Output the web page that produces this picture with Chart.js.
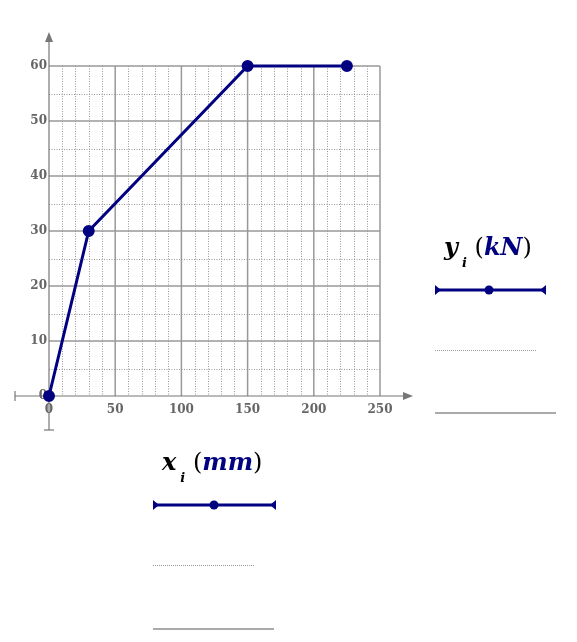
<!DOCTYPE html>
<html><head><meta charset="utf-8">
<script src="https://cdn.jsdelivr.net/npm/chart.js@4"></script>
<style>body{margin:0;background:#fff}#wrap{position:relative;width:577px;height:642px}canvas{position:absolute;left:0;top:0}
.lbl{position:absolute;font-family:"DejaVu Serif",serif;font-size:24px;color:#000;white-space:nowrap}
.lbl i{font-style:italic;font-weight:bold}.lbl sub{font-size:13px;font-style:italic;font-weight:bold;position:relative;top:6px;margin-left:4px}
.u{color:#000080;font-weight:bold;font-style:italic}</style>
</head><body><div id="wrap"><canvas id="c" width="577" height="642"></canvas>
<div class="lbl" style="left:444px;top:232px"><i>y</i><sub>i</sub>&nbsp;(<span class="u">kN</span>)</div>
<div class="lbl" style="left:162px;top:447px"><i>x</i><sub>i</sub>&nbsp;(<span class="u">mm</span>)</div>
</div>
<script>
const xValues=[0,30,150,225];
const yValues=[0,30,60,60];
const xTicks=[0,50,100,150,200,250];
const yTicks=[0,10,20,30,40,50,60];
const navy='#000080';
const deco={id:'deco',beforeDatasetsDraw(ch){
 const c=ch.ctx,xs=ch.scales.x,ys=ch.scales.y;const L=xs.getPixelForValue(0),R=xs.getPixelForValue(250),T=ys.getPixelForValue(60),B=ys.getPixelForValue(0);
 c.save();c.lineWidth=1;
 c.strokeStyle='#999';c.setLineDash([1,1.5]);
 for(let v=10;v<250;v+=10){if(v%50===0)continue;const p=Math.round(xs.getPixelForValue(v))+.5;c.beginPath();c.moveTo(p,T);c.lineTo(p,B);c.stroke();}
 for(let v=5;v<60;v+=10){const p=Math.round(ys.getPixelForValue(v))+.5;c.beginPath();c.moveTo(L,p);c.lineTo(R,p);c.stroke();}
 c.setLineDash([]);c.strokeStyle='#999';c.lineWidth=1.5;
 xTicks.forEach(v=>{if(v===0)return;const p=xs.getPixelForValue(v);c.beginPath();c.moveTo(p,T);c.lineTo(p,B);c.stroke();});
 yTicks.forEach(v=>{if(v===0)return;const p=ys.getPixelForValue(v);c.beginPath();c.moveTo(L,p);c.lineTo(R,p);c.stroke();});
 // axes
 c.strokeStyle='#777';c.fillStyle='#777';c.lineWidth=1.2;
 c.beginPath();c.moveTo(15,B);c.lineTo(406,B);c.stroke();
 c.beginPath();c.moveTo(15,B-5);c.lineTo(15,B+5);c.stroke();
 c.beginPath();c.moveTo(413,B);c.lineTo(403,B-4);c.lineTo(403,B+4);c.fill();
 c.beginPath();c.moveTo(L,430);c.lineTo(L,38);c.stroke();
 c.beginPath();c.moveTo(L-5,430);c.lineTo(L+5,430);c.stroke();
 c.beginPath();c.moveTo(L,32);c.lineTo(L-4,42);c.lineTo(L+4,42);c.fill();
 c.fillStyle='#666';c.font='bold 12px "DejaVu Serif", serif';
 c.textAlign='right';c.textBaseline='middle';
 yTicks.forEach(v=>c.fillText(String(v),L-2,ys.getPixelForValue(v)));
 c.textAlign='center';c.textBaseline='top';
 xTicks.forEach(v=>c.fillText(String(v),xs.getPixelForValue(v),404));
 // legend samples
 function sample(x1,x2,y,dx){c.strokeStyle=navy;c.fillStyle=navy;c.lineWidth=3;c.beginPath();c.moveTo(x1,y);c.lineTo(x2,y);c.stroke();
  c.beginPath();c.arc(dx,y,4.5,0,7);c.fill();
  c.beginPath();c.moveTo(x1+6,y);c.lineTo(x1,y-5);c.lineTo(x1,y+5);c.fill();
  c.beginPath();c.moveTo(x2-6,y);c.lineTo(x2,y-5);c.lineTo(x2,y+5);c.fill();}
 sample(435,546,290,489);sample(153,276,505,214);
 c.lineWidth=1;c.strokeStyle='#999';c.setLineDash([1,1]);
 c.beginPath();c.moveTo(435,350.5);c.lineTo(537,350.5);c.stroke();
 c.beginPath();c.moveTo(153,565.5);c.lineTo(255,565.5);c.stroke();
 c.setLineDash([]);c.lineWidth=2;c.strokeStyle='#aaa';
 c.beginPath();c.moveTo(435,413);c.lineTo(556,413);c.stroke();
 c.beginPath();c.moveTo(153,629);c.lineTo(274,629);c.stroke();
 c.restore();}};
new Chart(document.getElementById('c'),{type:'scatter',
 data:{datasets:[{data:xValues.map((x,i)=>({x,y:yValues[i]})),showLine:true,borderColor:navy,backgroundColor:navy,borderWidth:3,pointRadius:4.5,pointHoverRadius:4.5,clip:false}]},
 options:{responsive:false,animation:false,events:[],layout:{padding:{left:49,top:66,right:197,bottom:246}},
  plugins:{legend:{display:false},tooltip:{enabled:false}},
  scales:{x:{type:'linear',min:0,max:250,display:false},y:{type:'linear',min:0,max:60,display:false}}},
 plugins:[deco]});
</script></body></html>
